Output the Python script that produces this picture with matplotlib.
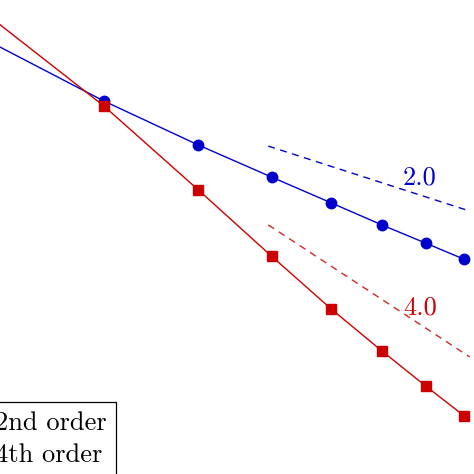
import numpy as np
import matplotlib
matplotlib.use('Agg')
import matplotlib.pyplot as plt

plt.rcParams['font.family'] = 'cmr10'
plt.rcParams['mathtext.fontset'] = 'cm'
plt.rcParams['axes.formatter.use_mathtext'] = True

# resolution (N) and errors
N = [2, 3, 4, 5, 6, 7, 8, 9]
err_2nd = [2.61e-2, 1.00e-2, 5.43e-3, 3.48e-3, 2.43e-3, 1.79e-3, 1.39e-3, 1.11e-3]
err_4th = [3.96e-2, 9.33e-3, 2.91e-3, 1.16e-3, 5.56e-4, 3.11e-4, 1.91e-4, 1.26e-4]

# reference slope lines and their labels
ref_x = [4.95, 9.15]
ref_2nd = [5.35e-3, 2.17e-3]
ref_4th = [1.79e-3, 2.86e-4]
lab_x = 7.86
lab_2nd = 3.43e-3
lab_4th = 5.64e-4

BLUE = '#0000cc'
RED = '#cc0000'

fig = plt.figure(figsize=(4.74, 4.74), dpi=100)
ax = fig.add_axes([0, 0, 1, 1])
ax.set_xscale('log')
ax.set_yscale('log')

ax.plot(N, err_2nd, '-o', color=BLUE, lw=1.0, ms=7.5, label='2nd order')
ax.plot(N, err_4th, '-s', color=RED, lw=1.0, ms=7.5, label='4th order')

ax.plot(ref_x, ref_2nd, '--', color=BLUE, lw=1.0, dashes=(5, 4))
ax.plot(ref_x, ref_4th, '--', color=RED, lw=1.0, dashes=(5, 4), alpha=0.85)
ax.text(lab_x, lab_2nd, '2.0', color=BLUE, fontsize=19, ha='center', va='center')
ax.text(lab_x, lab_4th, '4.0', color=RED, fontsize=19, ha='center', va='center')

ax.set_xlim(2.185, 9.269)
ax.set_ylim(5.63e-5, 4.07e-2)
ax.axis('off')

# legend sits partly outside the frame, as in the cropped original
leg = ax.legend(loc='upper right', bbox_to_anchor=(116 / 474, 1 - 402 / 474),
                borderaxespad=0, fontsize=19, fancybox=False, framealpha=1,
                edgecolor='black', handlelength=2.5, labelspacing=0.3,
                borderpad=0.35, handletextpad=0.5)
leg.get_frame().set_linewidth(0.9)

fig.savefig('out.png', dpi=100)
